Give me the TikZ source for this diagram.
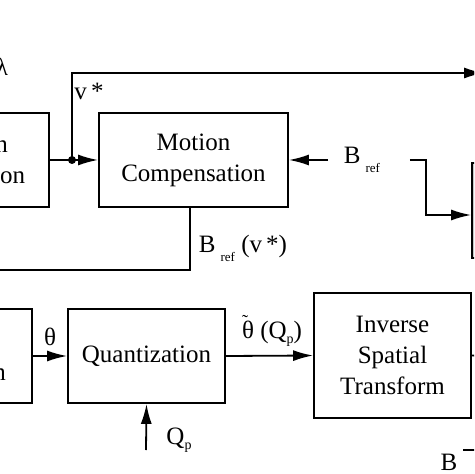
\documentclass[tikz,border=0pt]{standalone}
\usepackage{fontspec}
\setmainfont{Liberation Serif}
\usetikzlibrary{arrows.meta}

\newcommand{\Bref}{B\hspace{2.5pt}\raisebox{-4.5pt}{\fontsize{6.5}{7}\selectfont ref}}
\newcommand{\Qp}{Q\raisebox{-2.5pt}{\fontsize{7}{8}\selectfont p}}
\newcommand{\thtil}{\makebox[0pt][l]{\raisebox{5.5pt}{\fontsize{9}{9}\selectfont\char"02DC}}θ}

\begin{document}
\begin{tikzpicture}[x=0.5pt, y=-0.5pt, line width=0.9pt, >={Latex[length=10pt,width=5.5pt]},
  nodes = {align = center, font = \fontsize{12.5}{15.5}\selectfont}]

  \tikzstyle{block}=[draw, rectangle, line width=0.9pt, inner sep=0pt, minimum height=47pt]
  \tikzstyle{shade}=[block, fill=gray!45]
  \tikzstyle{lbl}=[inner sep=0pt]

  \useasboundingbox (0,0) rectangle (474,474);
  \clip (0,0) rectangle (474,474);

  % top row
  \node[lbl] (lam) at (2,67) {λ};
  \node[block, minimum width=78pt] (est) at (-29,160) {Motion\\Estimation};
  \node[block, minimum width=94.5pt] (mc) at (193.5,160) {Motion\\Compensation};
  \node[shade, minimum width=30pt, minimum height=47.5pt] (sum) at (502,210.5) {};

  \coordinate (jn) at (72,160);
  \coordinate (out1) at (484,73);
  \coordinate (fb) at (-20,270);

  \node[lbl] (vs) at (89,91) {v\,*};
  \node[lbl] (bref) at (362,160) {\Bref};
  \node[lbl] (brefv) at (243,248) {\Bref\ (v\,*)};

  % bottom row
  \node[block, minimum width=103.5pt] (st) at (-71.5,356) {Spatial\\Transformation};
  \node[block, minimum width=78.5pt] (quant) at (146.5,356) {Quantization};
  \node[block, minimum width=78.5pt, minimum height=62.5pt] (ist) at (392.5,355.5)
    {Inverse\\Spatial\\Transform};

  \coordinate (qp) at (146,450);
  \coordinate (out2) at (482,356);
  \coordinate (bl) at (463,450);
  \coordinate (out3) at (482,450);

  \node[lbl] (th) at (50,337) {θ};
  \node[lbl] (thq) at (272,331) {\thtil\ (\Qp)};
  \node[lbl] (qpl) at (179,440) {\Qp};
  \node[lbl] (bb) at (449,462) {B};

  % connectors
  \draw (est.east) -- (jn);
  \fill (jn) circle (2pt);
  \draw[->] (jn) -- (mc.west);
  \draw[->] (jn) |- (out1);
  \draw[->] ([xshift=-7.5pt]bref.west) -- (mc.east);
  \draw[->] ([xshift=14.5pt]bref.east) -- ++(16,0) |- ([yshift=-2.25pt]sum.west);
  \draw ([xshift=-1.75pt]mc.south) |- (fb);

  \draw[->] (st.east) -- (quant.west);
  \draw[->] (quant.east) -- (ist.west);
  \draw[->] (qp) -- (quant.south);
  \draw (ist.east) -- (out2);
  \draw (bl) -- (out3);
\end{tikzpicture}
\end{document}
